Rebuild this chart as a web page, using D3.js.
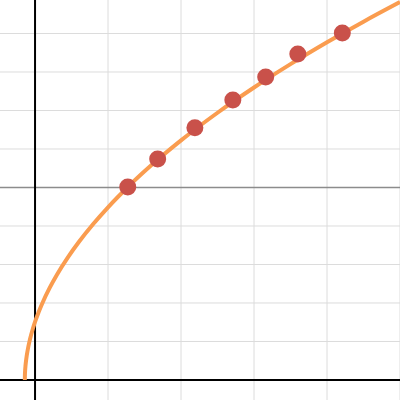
<!DOCTYPE html>
<meta charset="utf-8">
<body style="margin:0">
<script src="https://d3js.org/d3.v7.min.js"></script>
<div id="graph"></div>
<script>
var pointX = [1.27, 1.68, 2.19, 2.71, 3.16, 3.60, 4.21];
var pointY = [5.01, 5.74, 6.55, 7.27, 7.87, 8.47, 9.01];
var gridX = [1, 2, 3, 4, 5];
var gridY = [1, 2, 3, 4, 6, 7, 8, 9];
var refY = 5;
// fitted curve y = a*(x-h)^p, sampled at these x
var curveA = 4.19, curveH = -0.14, curveP = 0.52;
var curveXs = [-0.14, -0.139, -0.135, -0.13, -0.12, -0.1, -0.07, -0.03, 0, 0.05, 0.1, 0.2, 0.3, 0.45, 0.6, 0.8, 1, 1.3, 1.6, 2, 2.5, 3, 3.5, 4, 4.5, 5];

var W = 400, H = 400;
var x = d3.scaleLinear().domain([-0.48, 5]).range([0, W]);
var y = d3.scaleLinear().domain([-0.52, 9.87]).range([H, 0]);

var svg = d3.select("#graph").append("svg").attr("width", W).attr("height", H)
    .style("background", "#fff");

svg.selectAll(".gx").data(gridX).enter().append("line")
    .attr("x1", d => x(d)).attr("x2", d => x(d)).attr("y1", 0).attr("y2", H)
    .attr("stroke", "#dcdcdc").attr("stroke-width", 1);
svg.selectAll(".gy").data(gridY).enter().append("line")
    .attr("y1", d => y(d)).attr("y2", d => y(d)).attr("x1", 0).attr("x2", W)
    .attr("stroke", "#dcdcdc").attr("stroke-width", 1);

svg.append("line").attr("x1", 0).attr("x2", W).attr("y1", y(refY)).attr("y2", y(refY))
    .attr("stroke", "#8c8c8c").attr("stroke-width", 1.3);

svg.append("line").attr("x1", x(0)).attr("x2", x(0)).attr("y1", 0).attr("y2", H)
    .attr("stroke", "#000").attr("stroke-width", 2);
svg.append("line").attr("x1", 0).attr("x2", W).attr("y1", y(0)).attr("y2", y(0))
    .attr("stroke", "#000").attr("stroke-width", 2);

var curve = curveXs.map(v => [v, curveA * Math.pow(Math.max(v - curveH, 0), curveP)]);
svg.append("path").datum(curve)
    .attr("d", d3.line().x(d => x(d[0])).y(d => y(d[1])).curve(d3.curveMonotoneX))
    .attr("fill", "none").attr("stroke", "#fa9c4f").attr("stroke-width", 4);

svg.selectAll(".pt").data(pointX).enter().append("circle")
    .attr("cx", d => x(d)).attr("cy", (d, i) => y(pointY[i])).attr("r", 8.5)
    .attr("fill", "#c9514a");
</script>
